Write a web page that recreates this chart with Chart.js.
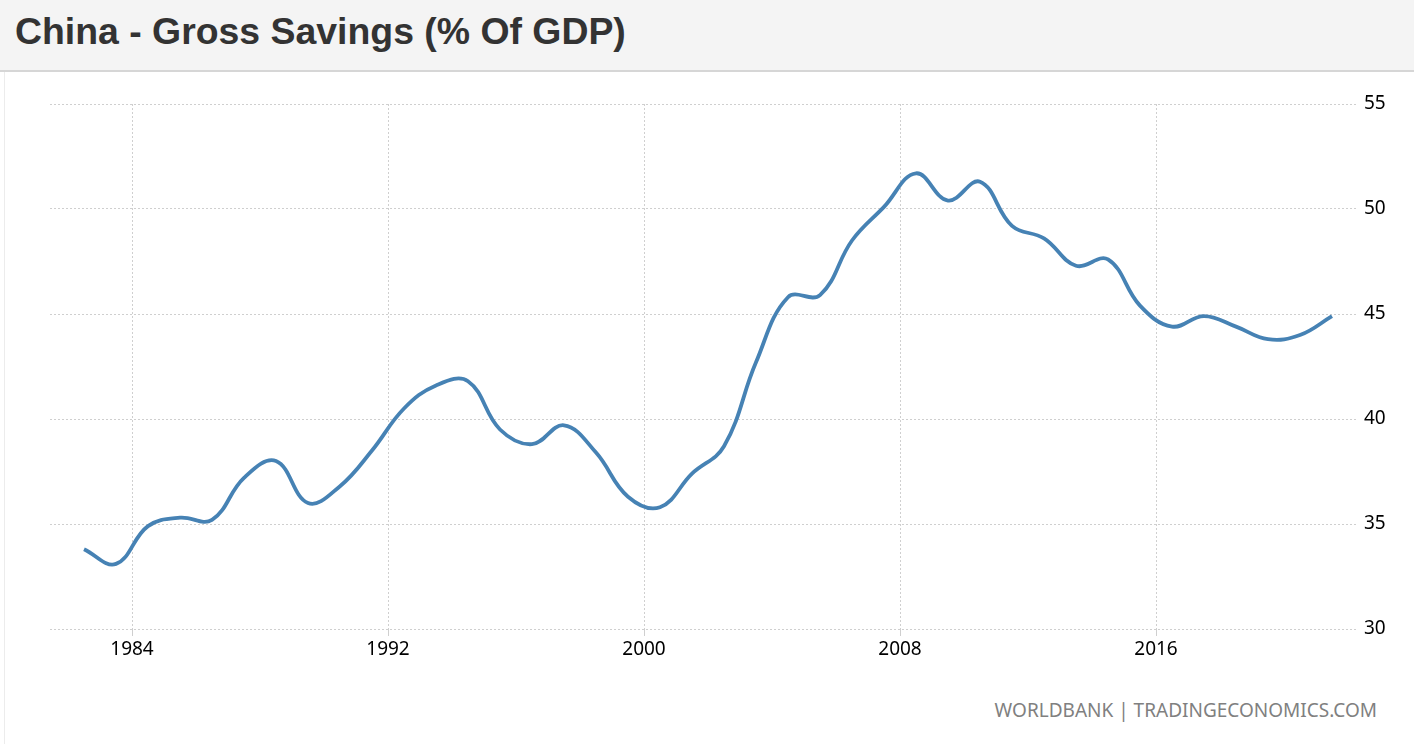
<!DOCTYPE html>
<html>
<head>
<meta charset="utf-8">
<script src="https://cdn.jsdelivr.net/npm/chart.js@4.4.1/dist/chart.umd.min.js"></script>
<style>
    html, body { margin: 0; padding: 0; background: #fff; }
    body { width: 1414px; height: 744px; position: relative; overflow: hidden; }
    .header {
        position: absolute; left: 0; top: 0; width: 1414px; height: 70px;
        background: #f4f4f4; border-bottom: 2px solid #d6d6d6;
    }
    .header h1 {
        margin: 0; position: absolute; left: 15px; top: 12px;
        font-family: "Liberation Sans", Arial, sans-serif; font-weight: bold;
        font-size: 37.4px; line-height: 38px; color: #333;
    }
    .side { position: absolute; left: 4px; top: 72px; width: 1px; height: 672px; background: #ececec; }
    .chart-wrap { position: absolute; left: 0; top: 72px; width: 1414px; height: 597px; }
    .source {
        position: absolute; right: 37px; top: 697px;
        font-family: "Noto Sans", sans-serif; font-size: 19px; color: #808080;
    }
</style>
</head>
<body>
<div class="header"><h1>China - Gross Savings (% Of GDP)</h1></div>
<div class="side"></div>
<div class="chart-wrap"><canvas id="savingsChart"></canvas></div>
<div class="source">WORLDBANK | TRADINGECONOMICS.COM</div>

<script>
// years of the annual series
const years = [
    1982, 1983, 1984, 1985, 1986, 1987, 1988, 1989, 1990, 1991,
    1992, 1993, 1994, 1995, 1996, 1997, 1998, 1999, 2000, 2001,
    2002, 2003, 2004, 2005, 2006, 2007, 2008, 2009, 2010, 2011,
    2012, 2013, 2014, 2015, 2016, 2017, 2018, 2019, 2020, 2021
];

// gross savings, % of GDP
const savings = [
    33.8, 33.1, 34.9, 35.3, 35.2, 37.2, 38.0, 36.0, 36.8, 38.5,
    40.5, 41.6, 41.8, 39.5, 38.8, 39.7, 38.4, 36.3, 35.8, 37.4,
    38.7, 42.7, 45.8, 45.9, 48.5, 50.1, 51.7, 50.4, 51.3, 49.2,
    48.6, 47.3, 47.6, 45.4, 44.4, 44.9, 44.4, 43.8, 44.0, 44.9
];

const xTickYears = [1984, 1992, 2000, 2008, 2016];
const yTicks = [30, 35, 40, 45, 50, 55];

const tickFont = { family: "'Noto Sans', sans-serif", size: 19 };

const points = years.map((y, i) => ({ x: y + 0.5, y: savings[i] }));

const ctx = document.getElementById('savingsChart');
new Chart(ctx, {
    type: 'line',
    data: {
        datasets: [{
            label: 'Gross Savings',
            data: points,
            borderColor: '#4682b4',
            borderWidth: 3.8,
            pointRadius: 0,
            tension: 0.4,
            fill: false
        }]
    },
    options: {
        responsive: true,
        maintainAspectRatio: false,
        animation: false,
        layout: { padding: { left: 50, top: 32, right: 0, bottom: 0 } },
        plugins: { legend: { display: false }, tooltip: { enabled: false } },
        scales: {
            x: {
                type: 'linear',
                min: 1981.4375,
                max: 2022.3125,
                afterBuildTicks: axis => { axis.ticks = xTickYears.map(v => ({ value: v })); },
                afterFit: axis => { axis.height = 40; },
                ticks: {
                    color: '#000',
                    font: tickFont,
                    padding: 2,
                    maxRotation: 0,
                    callback: v => String(v)
                },
                grid: {
                    color: '#cfcfcf',
                    lineWidth: 1,
                    tickLength: 7,
                    drawTicks: true
                },
                border: { display: false, dash: [2, 2] }
            },
            y: {
                position: 'right',
                min: 30,
                max: 55,
                afterBuildTicks: axis => { axis.ticks = yTicks.map(v => ({ value: v })); },
                afterFit: axis => { axis.width = 56; },
                ticks: {
                    color: '#000',
                    font: tickFont,
                    padding: 6
                },
                grid: {
                    color: '#cfcfcf',
                    lineWidth: 1,
                    drawTicks: false
                },
                border: { display: false, dash: [2, 2] }
            }
        }
    }
});
</script>
</body>
</html>
